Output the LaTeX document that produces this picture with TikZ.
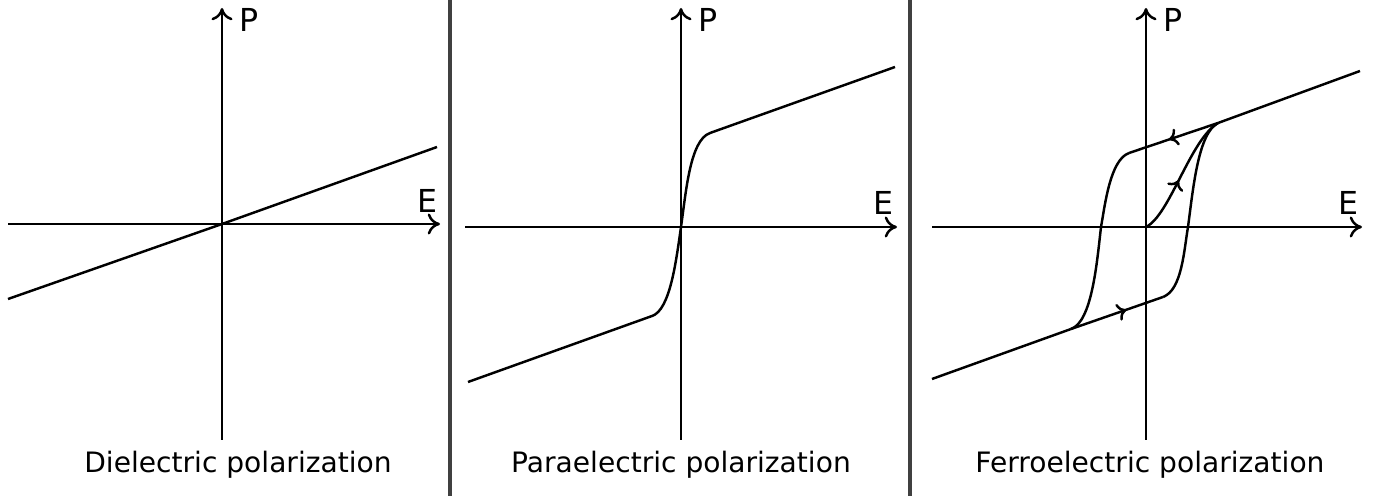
\documentclass[tikz,border=0pt]{standalone}
\usepackage{fontspec}
\setmainfont{DejaVu Sans}
\usetikzlibrary{arrows.meta,decorations.markings}
\begin{document}
\begin{tikzpicture}[x=0.02cm,y=-0.02cm,line width=1.4pt,
  axis/.style={-{To[length=7pt,width=12pt]}},
  lbl/.style={font=\fontsize{18}{20}\selectfont,inner sep=0pt},
  captext/.style={font=\fontsize{16}{18}\selectfont,inner sep=0pt},
  mk/.style={postaction={decorate},decoration={markings,mark=at position #1 with {\arrow{To[length=5pt,width=10pt]}}}},
  divider/.style={line width=2pt,draw=black!75}]
\useasboundingbox (0,0) rectangle (1377,496);
\draw[divider] (450,0) -- (450,496);
\draw[divider] (910,0) -- (910,496);
% panel 1
\coordinate (o1) at (222,224);
\draw[axis] (222,440) -- (222,8);
\draw[axis] (8,224) -- (440,224);
\node[lbl,anchor=west] (p1) at (238,20) {P};
\node[lbl] (e1) at (427,201) {E};
\draw (8,299) -- (o1) -- (437,147);
\node[captext] (c1) at (238,465) {Dielectric polarization};
% panel 2
\draw[axis] (681,440) -- (681,8);
\draw[axis] (465,227) -- (897,227);
\node[lbl,anchor=west] (p2) at (697,20) {P};
\node[lbl] (e2) at (883,203) {E};
\draw (468,382) -- (652,316) .. controls (670,310) and (676,262) .. (681,227)
  .. controls (686,192) and (690,140) .. (710,133) -- (895,67);
\node[captext] (c2) at (681,465) {Paraelectric polarization};
% panel 3
\draw[axis] (1146,440) -- (1146,8);
\draw[axis] (932,227) -- (1362,227);
\node[lbl,anchor=west] (p3) at (1162,20) {P};
\node[lbl] (e3) at (1348,203) {E};
\coordinate (tr) at (1218,123);
\coordinate (bl) at (1071,329);
\draw (932,379) -- (bl);
\draw (tr) -- (1360,71);
\draw[mk=0.55] (tr) -- (1129,153);
\draw (1129,153) .. controls (1110,160) and (1105,205) .. (1101,227)
  .. controls (1097,262) and (1092,322) .. (bl);
\draw[mk=0.6] (bl) -- (1163,297);
\draw (1163,297) .. controls (1182,290) and (1184,250) .. (1188,227)
  .. controls (1193,190) and (1198,133) .. (tr);
\draw[mk=0.45] (1146,227) .. controls (1170,215) and (1190,140) .. (tr);
\node[captext] (c3) at (1150,465) {Ferroelectric polarization};
\end{tikzpicture}
\end{document}
